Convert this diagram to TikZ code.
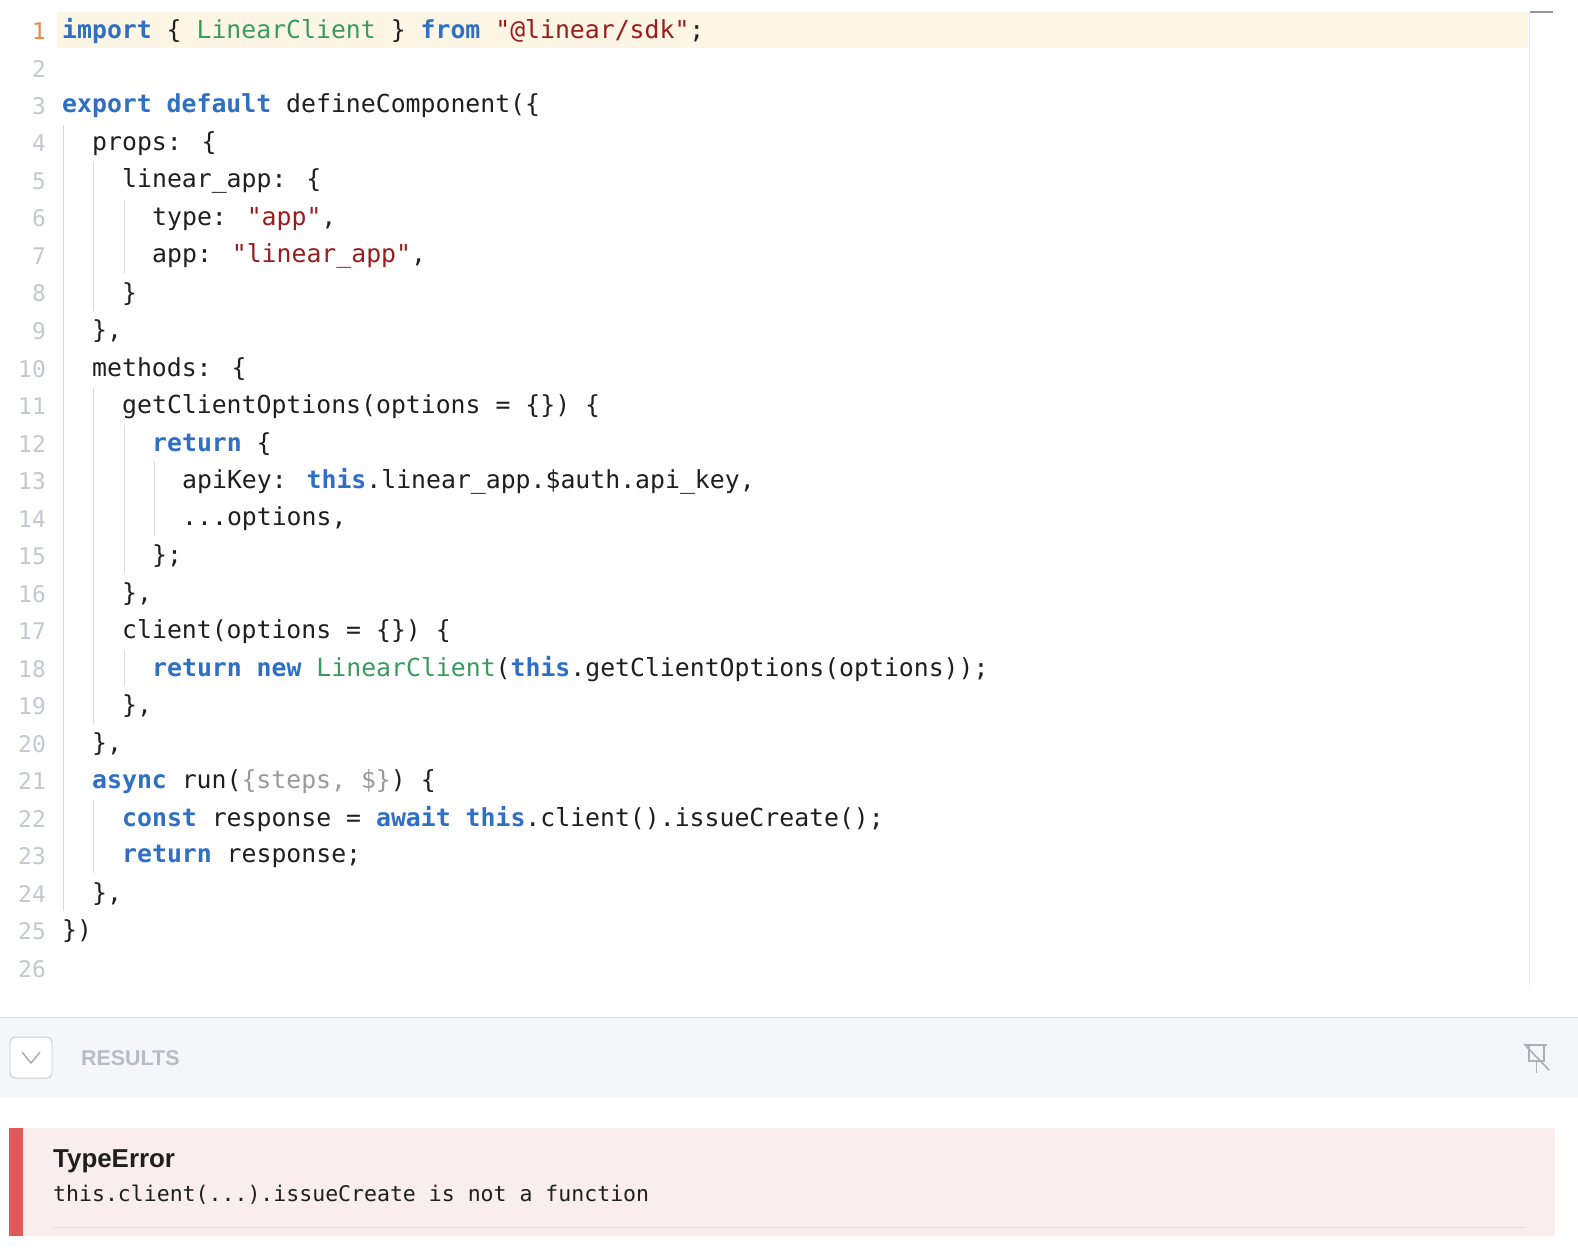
\documentclass[tikz,border=0pt]{standalone}
\usepackage{fontspec}
\setmainfont{Liberation Sans}
\newfontfamily\codefont{DejaVu Sans Mono}
\definecolor{kw}{HTML}{2F6FC4}
\definecolor{cls}{HTML}{3B9A5E}
\definecolor{str}{HTML}{9B1C1C}
\definecolor{prm}{HTML}{9A9A9A}
\definecolor{txt}{HTML}{1F1F1F}
\definecolor{lnum}{HTML}{C4C8CE}
\definecolor{guide}{HTML}{DADADA}
\newcommand{\Kw}[1]{\textcolor{kw}{\bfseries #1}}
\newcommand{\Cl}[1]{\textcolor{cls}{#1}}
\newcommand{\St}[1]{\textcolor{str}{#1}}
\newcommand{\Pm}[1]{\textcolor{prm}{#1}}
\tikzset{
  code/.style={anchor=west,inner sep=0pt,font=\codefont\fontsize{24.9}{26}\selectfont,text=txt},
  num/.style={anchor=east,inner sep=0pt,font=\codefont\fontsize{23}{24}\selectfont,text=lnum},
  gline/.style={draw=guide,line width=1pt}
}
\begin{document}
\begin{tikzpicture}[x=1bp,y=-1bp]
\useasboundingbox (0,0) rectangle (1578,1248);
\fill[white] (0,0) rectangle (1578,1248);
% highlight line 1
\fill[fill={rgb,255:red,253;green,246;blue,229}] (57,12) rectangle (1528,48);
\draw[draw={rgb,255:red,225;green,228;blue,232},line width=1pt] (1529,12) -- (1529,985);
\draw[draw={rgb,255:red,150;green,150;blue,150},line width=1.5pt] (1530,12) -- (1553,12);
% line numbers
\foreach \n in {2,...,26} {
  \node[num] (n\n) at (46,{31+37.52*(\n-1)}) {\n};
}
\node[num,text={rgb,255:red,232;green,136;blue,74}] (n1) at (46,31) {1};
% guides
\draw[gline] (63,{30+37.52*3-18}) -- (63,{30+37.52*23+18});
\draw[gline] (93,{30+37.52*4-18}) -- (93,{30+37.52*7+18});
\draw[gline] (93,{30+37.52*10-18}) -- (93,{30+37.52*18+18});
\draw[gline] (93,{30+37.52*21-18}) -- (93,{30+37.52*22+18});
\draw[gline] (124,{30+37.52*5-18}) -- (124,{30+37.52*6+18});
\draw[gline] (124,{30+37.52*11-18}) -- (124,{30+37.52*14+18});
\draw[gline] (124,{30+37.52*17-18}) -- (124,{30+37.52*17+18});
\draw[gline] (154,{30+37.52*12-18}) -- (154,{30+37.52*13+18});
% code
\node[code] (l1) at (62,31) {\Kw{import} \{ \Cl{LinearClient} \} \Kw{from} \St{"@linear/sdk"};};
\node[code] (l3) at (62,{31+37.52*2}) {\Kw{export} \Kw{default} defineComponent(\{};
\node[code] (l4) at (92,{31+37.52*3}) {props: \{};
\node[code] (l5) at (122,{31+37.52*4}) {linear\_app: \{};
\node[code] (l6) at (152,{31+37.52*5}) {type: \St{"app"},};
\node[code] (l7) at (152,{31+37.52*6}) {app: \St{"linear\_app"},};
\node[code] (l8) at (122,{31+37.52*7}) {\}};
\node[code] (l9) at (92,{31+37.52*8}) {\},};
\node[code] (l10) at (92,{31+37.52*9}) {methods: \{};
\node[code] (l11) at (122,{31+37.52*10}) {getClientOptions(options = \{\}) \{};
\node[code] (l12) at (152,{31+37.52*11}) {\Kw{return} \{};
\node[code] (l13) at (182,{31+37.52*12}) {apiKey: \Kw{this}.linear\_app.\$auth.api\_key,};
\node[code] (l14) at (182,{31+37.52*13}) {...options,};
\node[code] (l15) at (152,{31+37.52*14}) {\};};
\node[code] (l16) at (122,{31+37.52*15}) {\},};
\node[code] (l17) at (122,{31+37.52*16}) {client(options = \{\}) \{};
\node[code] (l18) at (152,{31+37.52*17}) {\Kw{return} \Kw{new} \Cl{LinearClient}(\Kw{this}.getClientOptions(options));};
\node[code] (l19) at (122,{31+37.52*18}) {\},};
\node[code] (l20) at (92,{31+37.52*19}) {\},};
\node[code] (l21) at (92,{31+37.52*20}) {\Kw{async} run(\Pm{\{steps, \$\}}) \{};
\node[code] (l22) at (122,{31+37.52*21}) {\Kw{const} response = \Kw{await} \Kw{this}.client().issueCreate();};
\node[code] (l23) at (122,{31+37.52*22}) {\Kw{return} response;};
\node[code] (l24) at (92,{31+37.52*23}) {\},};
\node[code] (l25) at (62,{31+37.52*24}) {\})};
% results bar
\fill[fill={rgb,255:red,245;green,246;blue,250}] (0,1017) rectangle (1578,1098);
\draw[draw={rgb,255:red,220;green,222;blue,227},line width=1pt] (0,1017) -- (1578,1017);
\draw[draw={rgb,255:red,200;green,203;blue,210},fill=white,rounded corners=5pt,line width=1pt] (10,1037) rectangle (52,1078);
\draw[draw={rgb,255:red,160;green,165;blue,175},line width=1.3pt] (22,1052) -- (31,1063) -- (40,1052);
\node[anchor=west,inner sep=0pt,font=\bfseries\fontsize{21.5}{23}\selectfont,text={rgb,255:red,184;green,188;blue,196}] (res) at (81,1058) {RESULTS};
% pin icon
\begin{scope}[draw={rgb,255:red,170;green,174;blue,182},line width=1.6pt]
\draw (1526,1045) -- (1547,1045);
\draw (1529,1045) -- (1529,1061) -- (1544,1061) -- (1544,1045);
\draw (1536.5,1061) -- (1536.5,1073);
\draw (1524,1044) -- (1549,1070);
\end{scope}
% error box
\fill[fill={rgb,255:red,249;green,237;blue,237}] (9,1128) rectangle (1555,1236);
\fill[fill={rgb,255:red,224;green,90;blue,90}] (9,1128) rectangle (23,1236);
\node[anchor=west,inner sep=0pt,font=\bfseries\fontsize{26}{28}\selectfont,text=txt] (te) at (53,1161) {TypeError};
\node[anchor=west,inner sep=0pt,font=\codefont\fontsize{21.6}{23}\selectfont,text=txt] (msg) at (53,1195) {this.client(...).issueCreate is not a function};
\draw[draw={rgb,255:red,220;green,222;blue,227},line width=1pt] (53,1227) -- (1525,1227);
\end{tikzpicture}
\end{document}
